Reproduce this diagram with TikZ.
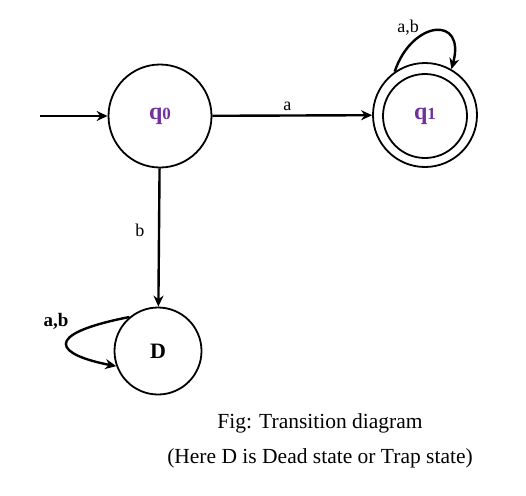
\documentclass[tikz,border=0pt]{standalone}
\usepackage{fontspec}
\setmainfont{Liberation Serif}
\usetikzlibrary{arrows.meta}
\definecolor{stpurple}{RGB}{112,48,160}
\begin{document}
\begin{tikzpicture}[x=1pt,y=-1pt,
  state/.style={circle,draw,line width=1.8pt,inner sep=0pt},
  edge/.style={line width=2.4pt,-{Stealth[length=11pt,width=10pt]}},
  lbl/.style={font=\fontsize{18}{20}\selectfont},
  stlbl/.style={text=stpurple,font=\fontsize{24}{26}\selectfont\bfseries}]
\useasboundingbox (0,0) rectangle (526,495);
\node[state,minimum size=103pt] (q0) at (160,116) {};
\node[stlbl] at (q0) {q{\fontsize{17}{20}\selectfont 0}};
\node[state,minimum size=104pt] (q1o) at (425,115) {};
\node[state,minimum size=84pt] (q1) at (425,116) {};
\node[stlbl] at (q1) {q{\fontsize{17}{20}\selectfont 1}};
\node[state,minimum size=87pt] (D) at (158,351) {};
\node[font=\fontsize{22}{24}\selectfont\bfseries] at (D) {D};
\coordinate (start) at (40,116);
\draw[edge] (start) -- (q0);
\draw[edge] (q0) -- node[lbl,above,pos=0.47] {a} (q1o);
\draw[edge] (q0) -- node[lbl,left,pos=0.45,xshift=-10pt] {b} (D);
\draw[edge] (q1o.125) .. controls (412,20) and (466,15) .. (q1o.60);
\node[lbl] at (408,28) {a,b};
\draw[edge] (D.130) .. controls (38,335) and (58,355) .. (D.200);
\node[font=\fontsize{19}{21}\selectfont\bfseries] at (56,321) {a,b};
\node[font=\fontsize{21.5}{24}\selectfont] (cap1) at (320,423) {Fig: Transition diagram};
\node[font=\fontsize{21.5}{24}\selectfont] (cap2) at (320,458) {(Here D is Dead state or Trap state)};
\end{tikzpicture}
\end{document}
